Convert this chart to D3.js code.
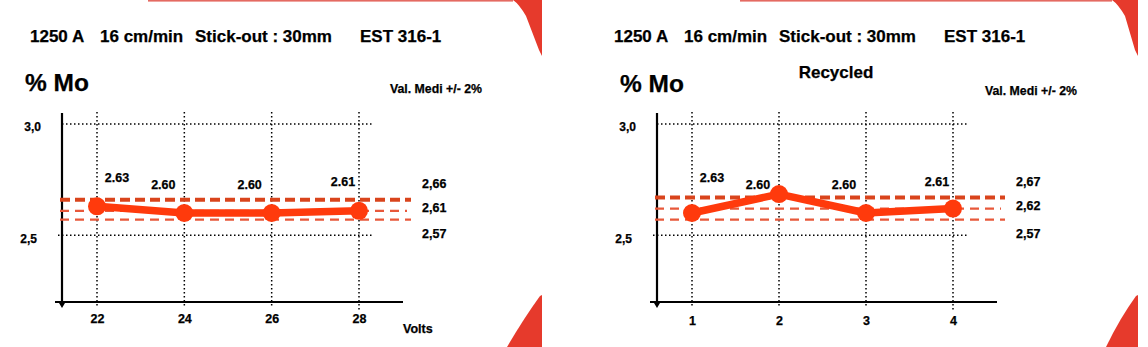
<!DOCTYPE html>
<html><head><meta charset="utf-8">
<script src="https://cdn.jsdelivr.net/npm/d3@7"></script>
<style>
html,body{margin:0;padding:0;background:#fff;}
svg{display:block;}
text{font-family:"Liberation Sans",Arial,sans-serif;font-weight:bold;fill:#000;stroke:#000;stroke-width:0.25px;}
</style></head>
<body>
<svg id="chart" width="1148" height="347"></svg>
<script>
// ---- data ----
const titleParts = ["1250 A", "16 cm/min", "Stick-out : 30mm", "EST 316-1"];
const yTickValues = [3.0, 2.5];

const voltsX = [22, 24, 26, 28];
const voltsValues = [2.63, 2.60, 2.60, 2.61];
const voltsLabels = ["2.63", "2.60", "2.60", "2.61"];
const voltsLimits = [2.66, 2.61, 2.57];

const recycledX = [1, 2, 3, 4];
const recycledValues = [2.60, 2.685, 2.60, 2.62];
const recycledLabels = ["2.63", "2.60", "2.60", "2.61"];
const recycledLimits = [2.67, 2.62, 2.57];

// ---- layout / style config ----
const labelDx = [20, -21, -22, -16];
const limitLabelDy = [-16, -3, 14];
const limitStyles = [
  {w: 4, dash: "10,5", color: "#d9441c"},
  {w: 2.2, dash: "9,6", color: "#e8583a"},
  {w: 2.2, dash: "9,6", color: "#e8583a"}
];
const titleOffsets = [0, 70, 165, 330];

const svg = d3.select("#chart");

// background decorations
const deco = svg.append("g");
function decorate(topStart, cornerL, cornerR) {
  deco.append("rect").attr("x", topStart).attr("y", 0).attr("width", cornerL - topStart).attr("height", 1.6).attr("fill", "#e46a62");
  deco.append("path")
    .attr("d", `M${cornerL},0 L${cornerR},0 L${cornerR},56 L${cornerR-3},50 L${cornerL+13},16 Q${cornerL+6},4 ${cornerL},0 Z`)
    .attr("fill", "#e63a2c");
  const bw = cornerR - cornerL + 6;
  deco.append("path")
    .attr("d", `M${cornerR},295 L${cornerR},347 L${cornerR-bw},347 Q${cornerR-18},318 ${cornerR-2},296 Z`)
    .attr("fill", "#e63a2c");
}
decorate(148, 513, 542);
decorate(740, 1112, 1138);

function panel(cfg) {
  const g = svg.append("g");
  const x = d3.scaleLinear().domain([cfg.xs[0], cfg.xs[cfg.xs.length - 1]]).range(cfg.xRange);
  const y = d3.scaleLinear().domain([2.2, 3.0]).range([302, 124]);
  const x0 = cfg.xRange[0], x1 = cfg.xRange[1];
  const axisX = x0 - 35;

  // titles
  titleParts.forEach((t, i) => {
    g.append("text").attr("x", cfg.titleX + titleOffsets[i]).attr("y", 41.5).attr("font-size", 17).text(t);
  });
  g.append("text").attr("x", axisX - 37).attr("y", cfg.moY).attr("font-size", 24.5).text("% Mo");
  g.append("text").attr("x", axisX + 328).attr("y", cfg.valY).attr("font-size", 12.3).text("Val. Medi +/- 2%");
  if (cfg.subtitle) {
    g.append("text").attr("x", cfg.subtitleX).attr("y", 78).attr("text-anchor", "middle").attr("font-size", 17).text(cfg.subtitle);
  }

  // horizontal dotted gridlines
  g.selectAll(".hg").data(yTickValues).join("line")
    .attr("x1", (d, i) => axisX - (i === 0 ? 0 : 4)).attr("x2", x1 + 14)
    .attr("y1", d => y(d)).attr("y2", d => y(d))
    .attr("stroke", "#000").attr("stroke-width", 1.5).attr("stroke-dasharray", "1.5,2.5");
  // vertical dotted gridlines
  g.selectAll(".vg").data(cfg.xs).join("line")
    .attr("x1", d => x(d)).attr("x2", d => x(d))
    .attr("y1", 112).attr("y2", (d, i) => i === cfg.xs.length - 1 ? 312 : 306)
    .attr("stroke", "#000").attr("stroke-width", 1.5).attr("stroke-dasharray", "1.5,2.5");

  // axes lines
  g.append("line").attr("x1", axisX).attr("x2", axisX).attr("y1", 113).attr("y2", 304)
    .attr("stroke", "#000").attr("stroke-width", 2.2);
  g.append("path").attr("d", `M${axisX-3},303 L${axisX+3},303 L${axisX},308 Z`).attr("fill", "#000");
  g.append("line").attr("x1", axisX - 7).attr("x2", x1 + 44).attr("y1", y(2.2)).attr("y2", y(2.2))
    .attr("stroke", "#000").attr("stroke-width", 2.2);

  // y tick labels via axis
  const yAxis = d3.axisLeft(y).tickValues(yTickValues).tickSize(0).tickPadding(0)
    .tickFormat(d => d3.format(".1f")(d).replace(".", ","));
  const ya = g.append("g").attr("transform", `translate(${axisX - 21},3)`).call(yAxis);
  ya.select(".domain").remove();
  ya.selectAll("text").attr("font-size", 12).attr("font-family", "Liberation Sans, Arial, sans-serif")
    .attr("font-weight", "bold").attr("fill", "#000").attr("dx", (d, i) => i === 0 ? 0 : -4);

  // x tick labels via axis
  const xAxis = d3.axisBottom(x).tickValues(cfg.xs).tickSize(0).tickPadding(0).tickFormat(d3.format("d"));
  const xa = g.append("g").attr("transform", `translate(0,${cfg.tickY})`).call(xAxis);
  xa.select(".domain").remove();
  xa.selectAll("text").attr("font-size", 12.5).attr("font-family", "Liberation Sans, Arial, sans-serif")
    .attr("font-weight", "bold").attr("fill", "#000").attr("dy", 0);
  if (cfg.xTitle) {
    g.append("text").attr("x", x1 + 44).attr("y", 332.5).attr("font-size", 12.5).text(cfg.xTitle);
  }

  // limit dashed lines
  g.selectAll(".lim").data(cfg.limits).join("line")
    .attr("x1", axisX - 2).attr("x2", (d, i) => x1 + (i === 1 ? 48 : 52))
    .attr("y1", d => y(d)).attr("y2", d => y(d))
    .attr("stroke", (d, i) => limitStyles[i].color)
    .attr("stroke-width", (d, i) => limitStyles[i].w)
    .attr("stroke-dasharray", (d, i) => limitStyles[i].dash);
  g.selectAll(".limt").data(cfg.limits).join("text")
    .attr("x", x1 + 63).attr("y", (d, i) => y(d) + limitLabelDy[i] + 4.5)
    .attr("font-size", 12.5).text(d => d3.format(".2f")(d).replace(".", ","));

  // series
  const pts = cfg.xs.map((v, i) => [x(v), y(cfg.values[i])]);
  g.append("path").attr("d", d3.line()(pts)).attr("fill", "none")
    .attr("stroke", "#ff3a0c").attr("stroke-width", 7.5).attr("stroke-linejoin", "round");
  g.selectAll(".pt").data(pts).join("circle")
    .attr("cx", d => d[0]).attr("cy", d => d[1]).attr("r", 9).attr("fill", "#ff3a0c");

  // value labels
  g.selectAll(".vl").data(cfg.labels).join("text")
    .attr("x", (d, i) => x(cfg.xs[i]) + labelDx[i])
    .attr("y", d => y(+d) - 29 + 4.5)
    .attr("text-anchor", "middle").attr("font-size", 12.5).text(d => d);
}

panel({xs: voltsX, values: voltsValues, labels: voltsLabels, limits: voltsLimits,
  xRange: [97, 359], titleX: 30, moY: 91, valY: 92.5, tickY: 332.5 - 9.5, xTitle: "Volts"});
panel({xs: recycledX, values: recycledValues, labels: recycledLabels, limits: recycledLimits,
  xRange: [692, 953], titleX: 614, moY: 92, valY: 94.5, tickY: 334.5 - 9.5, subtitle: "Recycled", subtitleX: 836});
</script>
</body></html>
